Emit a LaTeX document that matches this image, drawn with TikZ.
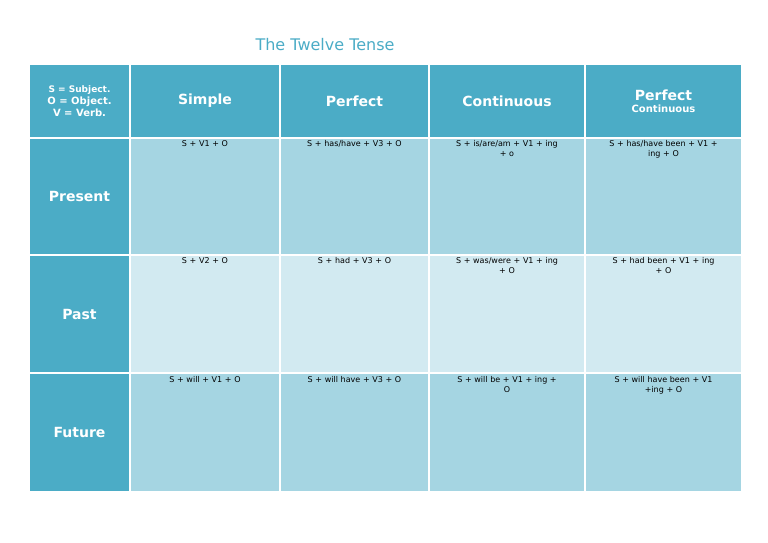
\documentclass[tikz,border=0pt]{standalone}
\usepackage{fontspec}
\setmainfont{DejaVu Sans}
\definecolor{hd}{HTML}{4BACC6}
\definecolor{dk}{HTML}{A5D5E2}
\definecolor{lt}{HTML}{D2EAF1}
\begin{document}
\begin{tikzpicture}[x=1pt,y=-1pt,
 hdr/.style={fill=hd,draw=white,line width=1.5pt,text=white,font=\bfseries,align=center},
 cell/.style={draw=white,line width=1.5pt,anchor=north west,inner sep=0pt}]
\useasboundingbox (0,0) rectangle (768,543);
\node[text=hd,font=\fontsize{16}{18}\selectfont] (title) at (325,45) {The Twelve Tense};
\def\cx{{29,130,280,429,585,742}}
\def\ry{{64,138,255,373,492}}
% header row
\foreach \i/\t in {0/{\fontsize{9}{11}\selectfont S = Subject.\\O = Object.\\V = Verb.},1/{\fontsize{14}{16}\selectfont Simple},2/{\fontsize{14}{16}\selectfont Perfect},3/{\fontsize{14}{16}\selectfont Continuous},4/{\fontsize{14}{16}\selectfont Perfect\\Continuous}}{
 \pgfmathsetmacro\xa{\cx[\i]}\pgfmathsetmacro\xb{\cx[\i+1]}
 \path[hdr] (\xa,64) rectangle (\xb,138);
 \node[text=white,font=\bfseries,align=center] (h\i) at ({(\xa+\xb)/2},101) {\t};
}
% row headers
\foreach \j/\t in {1/Present,2/Past,3/Future}{
 \pgfmathsetmacro\ya{\ry[\j]}\pgfmathsetmacro\yb{\ry[\j+1]}
 \path[hdr] (29,\ya) rectangle (130,\yb);
 \node[text=white,font=\bfseries\fontsize{14}{16}\selectfont] (r\j) at (79.5,{(\ya+\yb)/2}) {\t};
}
% body
\foreach \j/\c in {1/dk,2/lt,3/dk}{
 \foreach \i in {1,...,4}{
  \pgfmathsetmacro\xa{\cx[\i]}\pgfmathsetmacro\xb{\cx[\i+1]}
  \pgfmathsetmacro\ya{\ry[\j]}\pgfmathsetmacro\yb{\ry[\j+1]}
  \path[fill=\c,draw=white,line width=1.5pt] (\xa,\ya) rectangle (\xb,\yb);
 }
}
\tikzset{txt/.style={anchor=north,align=center,text width=140pt,font=\fontsize{8}{10}\selectfont,inner sep=0pt}}
\node[txt] (c11) at (205,140) {S + V1 + O};
\node[txt] (c12) at (354.5,140) {S + has/have + V3 + O};
\node[txt] (c13) at (507,140) {S + is/are/am + V1 + ing\\+ o};
\node[txt] (c14) at (663.5,140) {S + has/have been + V1 +\\ing + O};
\node[txt] (c21) at (205,257) {S + V2 + O};
\node[txt] (c22) at (354.5,257) {S + had + V3 + O};
\node[txt] (c23) at (507,257) {S + was/were + V1 + ing\\+ O};
\node[txt] (c24) at (663.5,257) {S + had been + V1 + ing\\+ O};
\node[txt] (c31) at (205,376) {S + will + V1 + O};
\node[txt] (c32) at (354.5,376) {S + will have + V3 + O};
\node[txt] (c33) at (507,376) {S + will be + V1 + ing +\\O};
\node[txt] (c34) at (663.5,376) {S + will have been + V1\\+ing + O};
\end{tikzpicture}
\end{document}
